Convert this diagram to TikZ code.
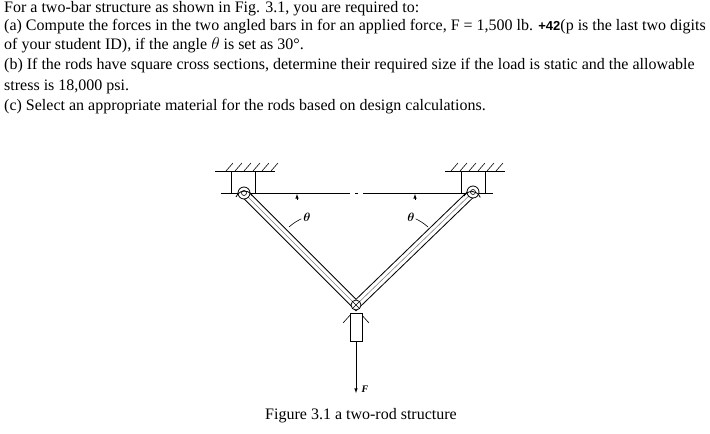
\documentclass[tikz,border=0pt]{standalone}
\usepackage{amsmath}
\usepackage{bm}
\usepackage{fontspec}
\setmainfont{Liberation Serif}
\newfontfamily\sansb{Liberation Sans}
\begin{document}
\begin{tikzpicture}[x=1pt,y=-1pt,
  txt/.style={anchor=west,inner sep=0pt,font=\fontsize{16}{18}\selectfont},
  bar/.style={line width=9pt,line cap=round},
  barin/.style={line width=7pt,white,line cap=round},
  thin/.style={line width=0.6pt}]
\useasboundingbox (0,0) rectangle (710,434);
\node[txt] (l1) at (4,9) {For a two-bar structure as shown in Fig. 3.1, you are required to:};
\node[txt] (l2) at (4,27) {(a) Compute the forces in the two angled bars in for an applied force, F = 1,500 lb. {\sansb\bfseries\fontsize{13}{14}\selectfont +42}(p is the last two digits};
\node[txt] (l3) at (4,45) {of your student ID), if the angle $\theta$ is set as 30°.};
\node[txt] (l4) at (4,66) {(b) If the rods have square cross sections, determine their required size if the load is static and the allowable};
\node[txt] (l5) at (4,87) {stress is 18,000 psi.};
\node[txt] (l6) at (4,107) {(c) Select an appropriate material for the rods based on design calculations.};
% ceiling
\draw[thin] (215,171) -- (275,171) (445,171) -- (505,171);
\foreach \x in {226,235,...,271} \draw[thin] (\x,171) -- (\x+7,163);
\foreach \x in {451,460,...,496} \draw[thin] (\x,171) -- (\x+7,163);
\draw[thin] (231,171) -- (231,193) (255,171) -- (255,193);
\draw[thin] (461,171) -- (461,193) (485,171) -- (485,193);
% horizontal reference line
\draw[thin] (221,193) -- (350,193) (355,193) -- (358,193) (363,193) -- (493,193);
% bars
\coordinate (A) at (244,193);
\coordinate (B) at (473,192);
\coordinate (C) at (356,305);
\draw[bar] (A) -- (C) -- (B);
\draw[barin] (A) -- (C) -- (B);
\draw[thin,gray] (A) -- (C) -- (B);
% pins
\draw[line width=0.8pt,fill=white] (A) circle (6);
\draw[thin] (A) circle (2.5);
\draw[line width=0.8pt] (236,197) arc (200:330:9);
\draw[line width=0.8pt,fill=white] (B) circle (6);
\draw[thin] (B) circle (2.5);
\draw[line width=0.8pt] (464,196) arc (210:340:9);
% bottom joint
\draw[line width=0.8pt,fill=white] (C) circle (5);
\draw[thin] (353,302) -- (359,308) (353,308) -- (359,302);
\draw[thin] (343,323) -- (352,313) (369,323) -- (360,313);
\node[draw,thin,fill=white,minimum width=12pt,minimum height=28pt,inner sep=0pt] (clev) at (356,327) {};
\coordinate (Fend) at (356,393);
\draw[thin,-latex] (clev.south) -- (Fend);
\node[inner sep=0pt,font=\bfseries\itshape\fontsize{10}{11}\selectfont] (F) at (365,389) {F};
% thetas
\node[inner sep=0pt,font=\fontsize{13}{14}\selectfont] (t1) at (307,217) {$\bm{\theta}$};
\node[inner sep=0pt,font=\fontsize{13}{14}\selectfont] (t2) at (411,217) {$\bm{\theta}$};
\draw[thin,-latex] (297,200) -- (297,194);
\draw[thin,-latex] (415,200) -- (415,194);
\draw[thin] (289,227) arc (228:245:50);
\draw[thin] (428,227) arc (312:295:50);
\node[inner sep=0pt,font=\fontsize{16}{18}\selectfont] (cap) at (361,416) {Figure 3.1 a two-rod structure};
\end{tikzpicture}
\end{document}
